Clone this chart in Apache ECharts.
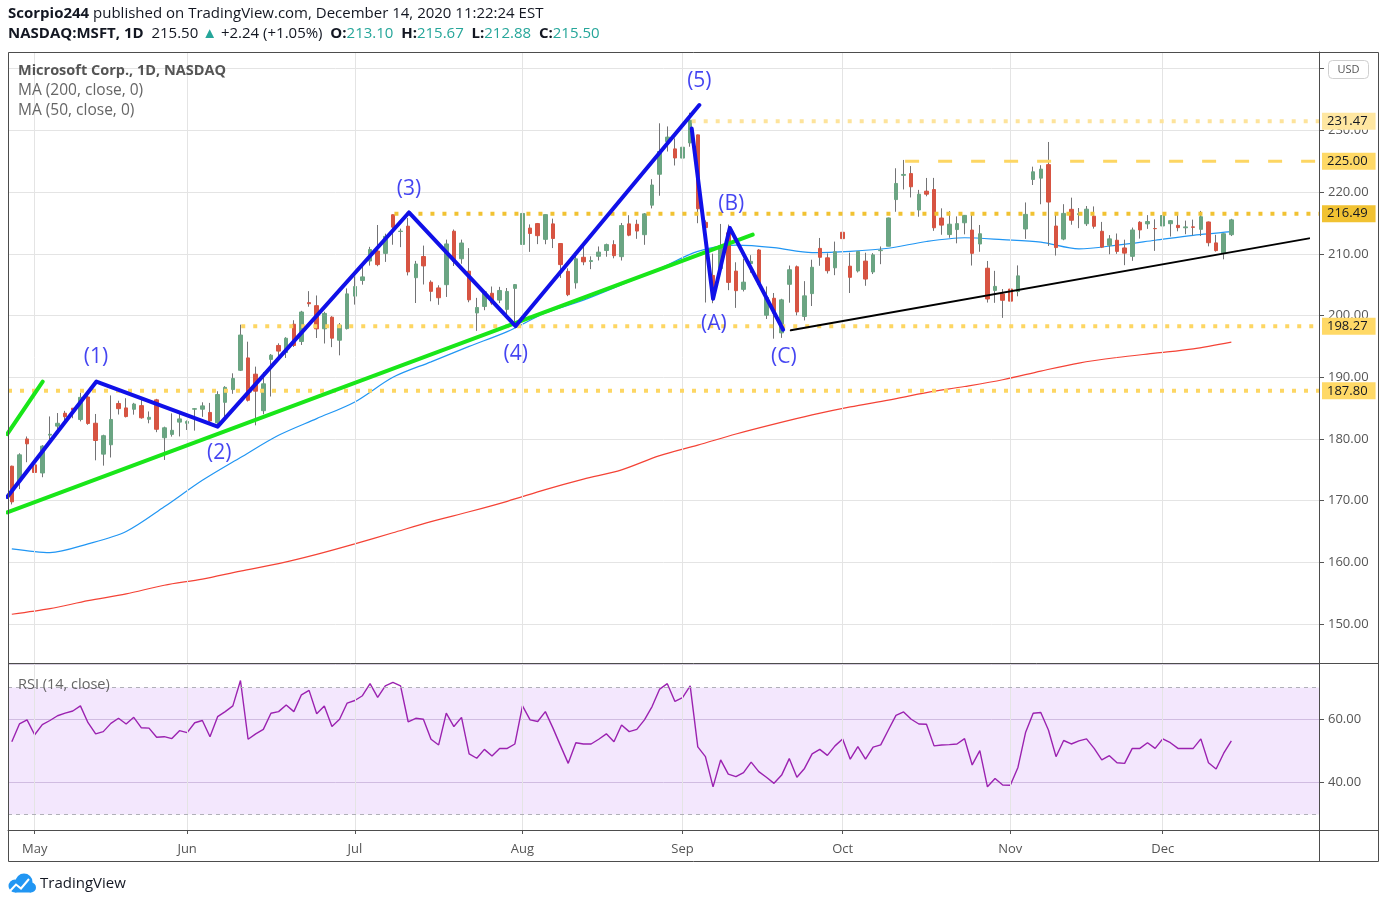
<!DOCTYPE html>
<html><head><meta charset="utf-8">
<script src="https://cdn.jsdelivr.net/npm/echarts@6/dist/echarts.min.js"></script>
<style>html,body{margin:0;padding:0;background:#fff}#c{width:1387px;height:906px}</style>
</head><body><div id="c"></div>
<script>
// ---------- DATA ----------
const dates = [
'2020-04-28','2020-04-29','2020-04-30',
'2020-05-01','2020-05-04','2020-05-05','2020-05-06','2020-05-07','2020-05-08','2020-05-11','2020-05-12','2020-05-13','2020-05-14','2020-05-15','2020-05-18','2020-05-19','2020-05-20','2020-05-21','2020-05-22','2020-05-26','2020-05-27','2020-05-28','2020-05-29',
'2020-06-01','2020-06-02','2020-06-03','2020-06-04','2020-06-05','2020-06-08','2020-06-09','2020-06-10','2020-06-11','2020-06-12','2020-06-15','2020-06-16','2020-06-17','2020-06-18','2020-06-19','2020-06-22','2020-06-23','2020-06-24','2020-06-25','2020-06-26','2020-06-29','2020-06-30',
'2020-07-01','2020-07-02','2020-07-06','2020-07-07','2020-07-08','2020-07-09','2020-07-10','2020-07-13','2020-07-14','2020-07-15','2020-07-16','2020-07-17','2020-07-20','2020-07-21','2020-07-22','2020-07-23','2020-07-24','2020-07-27','2020-07-28','2020-07-29','2020-07-30','2020-07-31',
'2020-08-03','2020-08-04','2020-08-05','2020-08-06','2020-08-07','2020-08-10','2020-08-11','2020-08-12','2020-08-13','2020-08-14','2020-08-17','2020-08-18','2020-08-19','2020-08-20','2020-08-21','2020-08-24','2020-08-25','2020-08-26','2020-08-27','2020-08-28','2020-08-31',
'2020-09-01','2020-09-02','2020-09-03','2020-09-04','2020-09-08','2020-09-09','2020-09-10','2020-09-11','2020-09-14','2020-09-15','2020-09-16','2020-09-17','2020-09-18','2020-09-21','2020-09-22','2020-09-23','2020-09-24','2020-09-25','2020-09-28','2020-09-29','2020-09-30',
'2020-10-01','2020-10-02','2020-10-05','2020-10-06','2020-10-07','2020-10-08','2020-10-09','2020-10-12','2020-10-13','2020-10-14','2020-10-15','2020-10-16','2020-10-19','2020-10-20','2020-10-21','2020-10-22','2020-10-23','2020-10-26','2020-10-27','2020-10-28','2020-10-29','2020-10-30',
'2020-11-02','2020-11-03','2020-11-04','2020-11-05','2020-11-06','2020-11-09','2020-11-10','2020-11-11','2020-11-12','2020-11-13','2020-11-16','2020-11-17','2020-11-18','2020-11-19','2020-11-20','2020-11-23','2020-11-24','2020-11-25','2020-11-27','2020-11-30',
'2020-12-01','2020-12-02','2020-12-03','2020-12-04','2020-12-07','2020-12-08','2020-12-09','2020-12-10','2020-12-11','2020-12-14'];
const futureDates = ['2020-12-15','2020-12-16','2020-12-17','2020-12-18','2020-12-21','2020-12-22','2020-12-23','2020-12-24','2020-12-28','2020-12-29','2020-12-30'];

const open = [
175.59,173.22,180.00,
175.80,174.49,180.62,182.08,184.17,184.98,183.15,186.80,182.55,177.54,179.06,185.75,185.03,184.81,185.40,183.19,186.34,180.20,180.74,182.73,
182.54,184.82,184.82,184.30,182.62,185.94,188.00,191.13,193.13,190.50,184.58,192.89,195.15,194.00,198.59,195.79,202.09,201.60,197.85,199.73,196.00,197.88,
203.14,205.68,208.83,210.45,210.07,216.33,213.62,214.48,206.13,209.56,205.40,204.47,205.00,213.66,209.20,207.19,200.42,201.47,203.61,202.50,201.00,204.40,
211.52,214.17,214.90,212.34,214.85,211.67,207.16,205.29,209.44,208.76,209.60,210.53,211.49,209.54,214.85,214.79,213.10,217.88,222.89,228.18,227.00,
225.51,227.97,229.27,215.10,206.50,207.60,213.40,207.20,204.24,208.42,210.62,200.05,202.80,197.19,205.06,207.90,199.85,203.55,210.88,209.35,207.73,
213.49,208.00,207.22,208.82,207.06,210.51,211.23,218.79,222.72,223.00,217.10,220.15,220.42,215.80,213.12,213.93,215.03,213.85,211.59,207.67,204.07,203.50,
204.29,203.89,214.02,222.04,222.26,224.45,214.50,212.39,217.21,216.36,214.87,216.10,213.65,211.38,212.20,210.95,209.59,215.11,214.85,214.10,
214.51,214.88,214.61,214.22,214.37,213.97,215.16,211.77,210.05,213.10];
const high = [
175.67,177.68,180.40,
178.64,179.00,183.65,184.20,184.55,185.00,187.51,187.04,184.05,180.69,187.06,186.20,186.60,185.85,186.67,184.46,186.50,181.99,184.15,184.27,
183.00,185.00,185.94,185.84,187.73,188.55,190.64,198.52,195.76,191.72,190.82,193.75,195.50,196.49,199.24,200.76,203.95,203.25,200.61,199.89,198.78,204.40,
206.35,208.04,211.13,214.67,213.26,216.38,214.08,215.80,208.85,211.33,205.70,204.90,212.30,213.94,212.30,210.92,202.86,203.97,204.70,204.65,204.46,205.10,
217.64,214.77,215.00,216.37,215.70,211.67,207.65,210.03,211.35,209.59,211.19,211.65,212.20,215.00,216.25,215.52,216.61,222.09,231.15,230.64,228.70,
227.45,232.86,229.31,215.42,210.03,214.84,214.74,208.63,209.20,209.78,210.76,204.71,203.65,202.71,208.10,208.10,205.57,209.04,212.57,210.07,211.98,
213.99,210.19,210.41,210.18,210.11,211.19,215.86,223.86,225.21,224.22,220.36,222.29,222.30,217.37,216.92,216.06,216.28,216.34,214.67,208.84,207.24,204.29,
205.75,208.12,218.32,224.12,224.36,228.12,216.50,218.04,219.10,217.42,217.74,217.68,215.17,213.03,213.29,212.29,214.25,215.29,216.27,215.59,
217.32,215.47,216.38,215.38,215.54,216.95,215.23,213.08,213.32,215.67];
const low = [
169.39,171.88,176.23,
174.01,173.80,179.90,181.63,182.58,183.36,182.85,182.30,176.54,175.68,177.00,183.96,183.49,183.94,183.29,182.54,181.10,176.60,180.38,180.41,
181.46,181.35,183.58,182.30,182.01,183.07,187.32,191.01,186.07,182.21,184.01,186.88,193.03,193.13,194.90,195.23,201.43,196.36,195.47,194.88,193.55,197.74,
201.77,205.00,208.09,207.99,208.69,211.47,211.08,206.50,202.03,205.03,202.31,201.74,203.01,208.03,208.39,202.15,197.51,200.86,201.74,202.01,199.57,199.01,
210.44,210.31,211.57,211.55,210.93,206.09,203.14,204.36,208.15,207.51,208.92,209.53,209.27,208.91,212.85,212.43,211.46,217.36,219.41,226.58,224.31,
224.43,227.35,214.96,202.11,202.00,206.70,204.11,201.24,203.90,206.93,204.93,199.44,196.25,196.38,202.08,200.03,199.20,201.54,208.06,206.81,206.54,
211.32,203.65,206.98,204.82,206.72,208.32,211.23,216.81,220.43,219.13,216.01,219.32,213.72,213.09,212.60,211.70,213.16,208.10,210.33,202.10,202.06,199.62,
200.12,203.12,212.42,221.15,218.03,211.27,209.72,212.20,214.71,214.16,214.52,214.08,210.93,209.93,210.00,208.16,208.86,212.46,214.04,210.48,
213.35,212.80,213.65,213.18,212.99,212.89,211.21,210.36,209.11,212.88];
const close = [
169.81,177.43,179.21,
174.57,178.84,180.76,182.54,183.60,184.68,186.74,182.51,179.75,180.53,183.16,184.91,183.63,185.66,183.43,183.51,181.57,181.81,181.40,183.25,
182.83,184.91,185.36,182.92,187.20,188.36,189.80,196.84,186.27,187.74,188.94,193.57,194.24,196.32,195.15,200.57,201.91,197.84,200.34,196.33,198.44,203.51,
204.70,206.26,210.70,208.25,212.83,214.32,213.67,207.07,208.35,208.04,203.92,202.88,211.60,208.75,211.75,202.54,201.30,203.85,202.02,204.06,203.90,205.01,
216.54,213.29,212.94,216.35,212.48,208.25,203.38,209.19,208.70,208.90,210.28,211.49,209.70,214.58,213.02,213.69,216.47,221.15,226.58,228.91,225.53,
227.27,231.65,217.30,214.25,202.66,211.29,205.37,204.03,205.41,208.78,205.05,202.91,200.39,202.54,207.42,200.59,203.19,207.82,209.44,207.26,210.33,
212.46,206.19,210.38,205.91,209.83,210.58,215.81,221.40,222.86,220.86,219.66,219.66,214.22,214.65,214.80,214.89,216.23,210.08,213.25,202.68,204.72,202.47,
202.33,206.43,216.39,223.29,223.72,218.39,211.01,216.55,215.44,216.51,217.23,214.46,211.08,212.42,210.39,210.11,213.86,213.87,215.23,214.07,
216.21,215.37,214.24,214.36,214.29,216.01,211.80,210.52,213.26,215.50];

const rsi = [
52.9,58.5,59.8,
55.1,58.3,59.6,61.1,61.9,62.6,64.2,58.9,55.4,56.1,58.7,60.3,58.5,60.6,57.3,57.2,54.3,54.5,53.9,56.4,
55.8,58.9,59.6,54.5,60.8,62.4,64.2,72.2,53.7,55.4,56.8,61.9,62.4,64.5,62.4,67.7,69.1,61.7,64.2,57.7,60.0,65.1,
65.9,67.4,71.2,66.9,70.5,71.6,70.5,59.2,60.3,60.0,53.7,51.9,61.9,57.7,60.6,49.1,47.7,50.5,48.4,50.8,50.8,52.2,
64.2,59.8,59.3,62.4,57.2,51.6,46.1,52.6,52.2,52.2,53.7,55.4,52.9,58.2,56.1,56.8,59.8,64.0,69.5,71.2,65.6,
66.8,70.5,51.3,48.2,38.7,47.2,42.7,41.9,43.2,46.5,43.5,41.7,39.8,42.4,47.6,41.7,44.5,49.1,50.5,48.6,51.6,
53.8,47.4,51.4,47.4,51.2,51.9,56.6,61.2,62.3,60.0,58.5,58.4,51.6,51.9,52.0,52.2,53.9,45.6,50.1,38.7,41.3,39.3,
39.2,44.8,55.8,61.9,62.1,56.6,48.2,53.3,52.2,53.2,53.8,50.8,47.2,48.5,46.3,46.1,50.8,50.8,52.6,50.8,
53.8,52.6,50.8,50.8,50.8,53.8,46.3,44.3,49.3,53.2];

// moving averages every 5th bar
const maStep = 5;
const ma50 = [162.2,161.6,163.0,165.0,169.0,173.3,177.0,180.6,183.3,186.0,190.0,192.5,195.0,197.4,200.4,202.5,205.0,207.6,210.4,211.4,211.0,210.2,210.4,210.9,212.0,212.6,212.3,211.9,210.8,211.4,212.2,213.0,213.6];
const ma200 = [151.6,152.5,153.8,154.9,156.3,157.3,158.6,159.8,161.3,163.0,164.8,166.6,168.2,169.9,171.8,173.5,175.0,177.3,179.0,180.8,182.4,183.9,185.2,186.3,187.5,188.5,189.6,191.0,192.3,193.2,193.9,194.6,195.7];

// horizontal levels drawn by the author (value, starting bar)
const levels = [231.47, 225.00, 216.49, 198.27, 187.80];
const levelStart = [89.2, 117.2, 50.2, 30.1, -0.5];

// trend drawings (bar index, price)
const waveLine = [[-0.6,170.6],[11.1,189.3],[27.0,182.0],[52.1,216.7],[66.1,198.3],[90.2,234.1]];
const abcLine = [[89.2,230.3],[92.0,202.7],[94.2,214.2],[101.2,197.7]];
const greenLong = [[-0.6,168.1],[97.2,213.1]];
const greenShort = [[-0.6,180.8],[4.05,189.3]];
const blackLine = [[102.2,197.6],[170.2,212.5]];
const waveLabels = ['(1)','(2)','(3)','(4)','(5)','(A)','(B)','(C)'];
const waveLabelPos = [[11.05,193.2],[27.2,177.8],[52.1,220.5],[66.1,193.7],[90.2,238.0],[92.1,198.7],[94.4,218.0],[101.3,193.2]];

const monthNames = ['Jan','Feb','Mar','Apr','May','Jun','Jul','Aug','Sep','Oct','Nov','Dec'];

// ---------- CHART ----------
const FONT = '"Open Sans","Noto Sans",sans-serif';
const catData = dates.concat(futureDates);
const N = catData.length;
const xMax = N - 0.5;
const isMonthStart = (idx) => idx > 0 && idx < catData.length && catData[idx].slice(5,7) !== catData[idx-1].slice(5,7);
const monthIdx = catData.map((d,i)=>i).filter(isMonthStart);
const GRID = '#e4e4e4';
const AXIS = '#555';

const levelColors = ['#fde39b','#fdd663','#f1c232','#fdd663','#fdd663'];
const levelBg = ['#ffe7a1','#ffd966','#f1c232','#ffd966','#ffd966'];
const levelDash = [[4,8],[14,19],[4,8],[4,8],[4,8]];
const levelWidth = [4,3,4,4,4];

const series = [];
// month grid lines (main pane + RSI pane)
series.push({type:'line', xAxisIndex:1, yAxisIndex:0, data:[], z:1, silent:true,
  markLine:{silent:true, symbol:'none', label:{show:false}, lineStyle:{color:GRID, type:'solid', width:1}, data: monthIdx.map(i=>({xAxis:i}))}});
series.push({type:'line', xAxisIndex:2, yAxisIndex:1, data:[], z:1, silent:true,
  markLine:{silent:true, symbol:'none', label:{show:false}, lineStyle:{color:GRID, type:'solid', width:1}, data: monthIdx.map(i=>({xAxis:i}))}});
series.push({type:'line', name:'MA200', xAxisIndex:1, yAxisIndex:0, data: ma200.map((v,k)=>[k*maStep, v]), showSymbol:false, smooth:0.3, lineStyle:{color:'#f44336', width:1.2}, z:2, silent:true});
series.push({type:'line', name:'MA50', xAxisIndex:1, yAxisIndex:0, data: ma50.map((v,k)=>[k*maStep, v]), showSymbol:false, smooth:0.3, lineStyle:{color:'#2196f3', width:1.2}, z:2, silent:true});
series.push({type:'candlestick', name:'wick', xAxisIndex:0, yAxisIndex:0, barWidth:1,
  data: dates.map((d,i)=>[open[i], close[i], low[i], high[i]]),
  itemStyle:{color:'#737375', color0:'#737375', borderColor:'#737375', borderColor0:'#737375', borderColorDoji:'#737375', borderWidth:1}, z:3, silent:true});
series.push({type:'candlestick', name:'MSFT', xAxisIndex:0, yAxisIndex:0, barWidth:4,
  data: dates.map((d,i)=>[open[i], close[i], Math.min(open[i],close[i]), Math.max(open[i],close[i])]),
  itemStyle:{color:'#6ba583', color0:'#d75442', borderColor:'#6ba583', borderColor0:'#d75442', borderColorDoji:'#6ba583', borderWidth:1}, z:4, silent:true});
levels.forEach((v,k)=>{
  series.push({type:'line', xAxisIndex:1, yAxisIndex:0, data:[[levelStart[k], v],[xMax, v]], showSymbol:false, silent:true, z:5,
    lineStyle:{color:levelColors[k], width:levelWidth[k], type:levelDash[k], cap:'butt'},
    endLabel:{show:true, formatter: v.toFixed(2), distance:3, backgroundColor:levelBg[k], color:'#131722', fontFamily:FONT, fontSize:13, padding:[1,8,0,5], lineHeight:16}});
});
const drawLine = (data, color, width, z) => ({type:'line', xAxisIndex:1, yAxisIndex:0, data, showSymbol:false, silent:true, z, lineStyle:{color, width, cap:'round', join:'round'}});
series.push(drawLine(greenLong, '#19e619', 4, 6));
series.push(drawLine(greenShort, '#19e619', 4, 6));
series.push(drawLine(blackLine, '#000000', 2, 6));
series.push(drawLine(waveLine, '#1010e8', 4, 7));
series.push(drawLine(abcLine, '#1010e8', 4, 7));
series.push({type:'scatter', xAxisIndex:1, yAxisIndex:0, symbolSize:1, itemStyle:{color:'transparent'}, silent:true, z:8,
  data: waveLabels.map((t,k)=>({name:t, value:waveLabelPos[k]})),
  label:{show:true, position:'inside', formatter: p=>p.name, color:'#1515ee', fontSize:21, fontFamily:FONT}});
series.push({type:'line', name:'RSI', xAxisIndex:2, yAxisIndex:1, data: rsi, showSymbol:false, silent:true, z:4,
  lineStyle:{color:'#9b22b0', width:1.4},
  markArea:{silent:true, itemStyle:{color:'rgba(150,40,240,0.11)'}, data:[[{yAxis:30},{yAxis:70}]]},
  markLine:{silent:true, symbol:'none', label:{show:false}, lineStyle:{color:'#b0b0b8', type:[4,4], width:1}, data:[{yAxis:70},{yAxis:30}]}});

const txt = (x, y, text, opts) => ({type:'text', silent:true, z:120, style:Object.assign({x, y, text, textVerticalAlign:'middle', verticalAlign:'middle', fontFamily:FONT, fontSize:15, fill:'#131722'}, opts||{})});
const B = {fontFamily:FONT, fontSize:15, fontWeight:'bold', fill:'#131722'};
const T = {fontFamily:FONT, fontSize:15, fill:'#26a69a'};

const graphic = [
  txt(8, 14, '{b|Scorpio244} published on TradingView.com, December 14, 2020 11:22:24 EST', {rich:{b:B}}),
  txt(8, 34, '{b|NASDAQ:MSFT, 1D}  215.50 {t|▲} +2.24 (+1.05%)  {b|O:}{t|213.10}  {b|H:}{t|215.67}  {b|L:}{t|212.88}  {b|C:}{t|215.50}', {rich:{b:B, t:T}}),
  txt(18, 71, 'Microsoft Corp., 1D, NASDAQ', {fontWeight:'bold', fill:'#555', fontSize:14.5}),
  txt(18, 91, 'MA (200, close, 0)', {fill:'#666', fontSize:15.5}),
  txt(18, 111, 'MA (50, close, 0)', {fill:'#666', fontSize:15.5}),
  txt(18, 685, 'RSI (14, close)', {fill:'#666', fontSize:14.5}),
  // frame
  {type:'rect', silent:true, z:110, shape:{x:8.5, y:52.5, width:1370, height:809}, style:{fill:'transparent', stroke:'#4d4d4d', lineWidth:1}},
  {type:'line', silent:true, z:110, shape:{x1:8, y1:663.5, x2:1379, y2:663.5}, style:{stroke:'#4d4d4d', lineWidth:1}},
  {type:'line', silent:true, z:110, shape:{x1:8, y1:830.5, x2:1379, y2:830.5}, style:{stroke:'#4d4d4d', lineWidth:1}},
  {type:'line', silent:true, z:110, shape:{x1:1319.5, y1:52, x2:1319.5, y2:862}, style:{stroke:'#4d4d4d', lineWidth:1}},
  // USD badge
  {type:'rect', silent:true, z:115, shape:{x:1328.5, y:60.5, width:40, height:18, r:4}, style:{fill:'#fff', stroke:'#d0d0d0', lineWidth:1}},
  {type:'text', silent:true, z:116, style:{x:1348.5, y:70, text:'USD', textAlign:'center', align:'center', textVerticalAlign:'middle', verticalAlign:'middle', fontFamily:FONT, fontSize:11, fill:'#555'}},
  // TradingView logo
  {type:'group', silent:true, z:120, children:[
    {type:'circle', shape:{cx:15, cy:886, r:6.5}, style:{fill:'#2196f3'}},
    {type:'circle', shape:{cx:24, cy:882, r:8.5}, style:{fill:'#2196f3'}},
    {type:'circle', shape:{cx:31, cy:887.5, r:5}, style:{fill:'#2196f3'}},
    {type:'rect', shape:{x:15, y:884, width:16, height:8.5}, style:{fill:'#2196f3'}},
    {type:'polyline', shape:{points:[[10,891],[16,884.5],[21,888.5],[29,879]]}, style:{stroke:'#fff', lineWidth:2, fill:null}}
  ]},
  txt(40, 884, 'TradingView', {fontSize:15, fill:'#131722'})
];

const chart = echarts.init(document.getElementById('c'), null, {renderer:'canvas'});
chart.setOption({
  animation:false,
  backgroundColor:'#fff',
  grid:[
    {left:8, top:52, width:1311, height:611, outerBoundsMode:'none', containLabel:false},
    {left:8, top:664, width:1311, height:166, outerBoundsMode:'none', containLabel:false}
  ],
  xAxis:[
    {type:'category', gridIndex:0, data:catData, boundaryGap:true, axisLine:{show:false, onZero:false}, axisTick:{show:false}, axisLabel:{show:false}, splitLine:{show:false}},
    {type:'value', gridIndex:0, min:-0.5, max:xMax, show:false, axisLine:{show:false, onZero:false}, axisTick:{show:false}, axisLabel:{show:false}, splitLine:{show:false}},
    {type:'category', gridIndex:1, data:catData, boundaryGap:true,
      axisLine:{show:true, onZero:false, lineStyle:{color:AXIS}},
      axisTick:{show:true, interval:(i)=>isMonthStart(i), alignWithLabel:true, length:4, lineStyle:{color:AXIS}},
      axisLabel:{interval:(i)=>isMonthStart(i), formatter:(v)=>monthNames[parseInt(v.slice(5,7),10)-1], color:AXIS, fontFamily:FONT, fontSize:13, margin:13},
      splitLine:{show:false}}
  ],
  yAxis:[
    {type:'value', gridIndex:0, position:'right', min:143.7, max:242.7, minInterval:10, maxInterval:10,
      axisLine:{show:true, onZero:false, lineStyle:{color:AXIS}}, axisTick:{show:true, length:5, lineStyle:{color:AXIS}},
      axisLabel:{color:AXIS, fontFamily:FONT, fontSize:13, margin:9, formatter:(v)=>v.toFixed(2), showMinLabel:false, showMaxLabel:false},
      splitLine:{show:true, lineStyle:{color:GRID}}},
    {type:'value', gridIndex:1, position:'right', min:25.1, max:77.4, minInterval:20, maxInterval:20,
      axisLine:{show:true, onZero:false, lineStyle:{color:AXIS}}, axisTick:{show:true, length:5, lineStyle:{color:AXIS}},
      axisLabel:{color:AXIS, fontFamily:FONT, fontSize:13, margin:9, formatter:(v)=>v.toFixed(2), showMinLabel:false, showMaxLabel:false},
      splitLine:{show:true, lineStyle:{color:'#d8cfe0'}}}
  ],
  series,
  graphic
});
</script>
</body></html>
